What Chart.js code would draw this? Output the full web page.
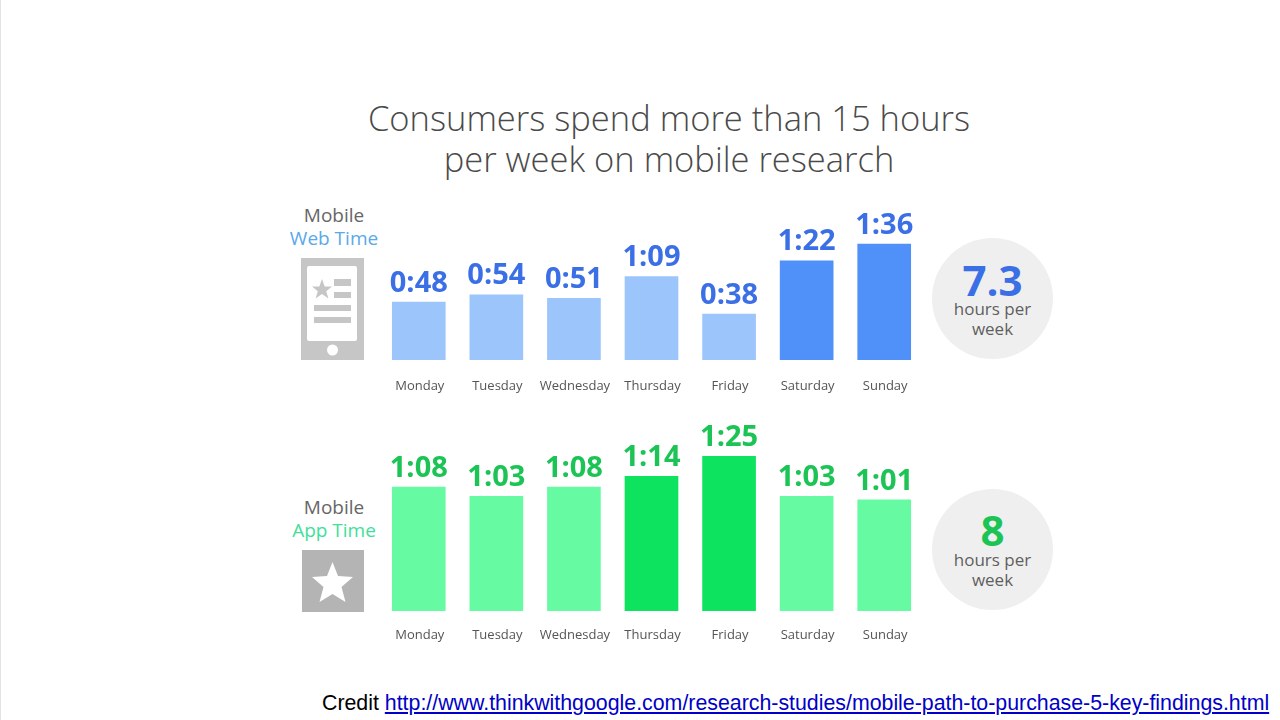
<!DOCTYPE html>
<html><head><meta charset="utf-8">
<style>
html,body{margin:0;padding:0;width:1280px;height:720px;background:#fff;overflow:hidden;font-family:"Open Sans",sans-serif}
.a{position:absolute}
.t{position:absolute;text-align:center;white-space:nowrap}
#edge{left:0;top:0;width:1px;height:720px;background:#e4e4e4}
#title{left:269px;width:800px;top:97px;font-size:34.5px;font-weight:300;line-height:41px;color:#4a4a4a}
.lab{left:274px;width:120px;font-size:19px;line-height:23px;color:#666}
.circle{left:932px;width:121px;height:121px;border-radius:50%;background:#efefef}
.big{left:932px;width:121px;font-weight:700;font-size:42px;line-height:48px}
.sub{left:932px;width:121px;font-size:17px;line-height:20px;color:#5f5f5f}
#credit{left:322px;top:691px;font-family:"Liberation Sans",sans-serif;font-size:21.33px;line-height:24px;color:#000;text-align:left}
#credit a{color:#0000c8;text-decoration:underline}
</style></head><body>
<div class="a" id="edge"></div>
<div class="t" id="title">Consumers spend more than 15 hours<br>per week on mobile research</div>

<div class="t lab" style="top:204px">Mobile<br><span style="color:#5aa9ea">Web Time</span></div>
<svg class="a" style="left:301px;top:258px" width="63" height="102" viewBox="0 0 63 102">
<rect width="63" height="102" fill="#c6c6c6"/>
<rect x="6" y="8" width="50" height="75" rx="2" fill="#fff"/>
<circle cx="31.5" cy="92" r="5.5" fill="#fff"/>
<polygon points="21,21 23.7,28.6 31,28.6 25.2,33.2 27.4,40.5 21,36 14.6,40.5 16.8,33.2 11,28.6 18.3,28.6" fill="#c6c6c6"/>
<rect x="33" y="21" width="17" height="7" fill="#c6c6c6"/><rect x="33" y="34" width="17" height="6" fill="#c6c6c6"/>
<rect x="13" y="47" width="37" height="6" fill="#c6c6c6"/><rect x="13" y="59" width="37" height="6" fill="#c6c6c6"/>
</svg>

<div class="t lab" style="top:496px">Mobile<br><span style="color:#3fe09a">App Time</span></div>
<svg class="a" style="left:302px;top:550px" width="62" height="62" viewBox="0 0 62 62">
<rect width="62" height="62" fill="#b4b4b4"/>
<polygon points="30.5,12 36,26 51,27 39.5,37 43.5,52 30.5,44 17.5,52 21.5,37 10,27 25,26" fill="#fff"/>
</svg>

<div class="a circle" style="top:238px"></div>
<div class="t big" style="top:256px;color:#3b6fe6" id="webTotal"></div>
<div class="t sub" style="top:299px">hours per<br>week</div>
<div class="a circle" style="top:489px"></div>
<div class="t big" style="top:506px;color:#1bc455" id="appTotal"></div>
<div class="t sub" style="top:550px">hours per<br>week</div>

<div class="a" style="left:380px;top:190px;width:543px;height:220px"><canvas id="web"></canvas></div>
<div class="a" style="left:380px;top:410px;width:543px;height:251px"><canvas id="app"></canvas></div>

<div class="t" id="credit">Credit <a href="#">http://www.thinkwithgoogle.com/research-studies/mobile-path-to-purchase-5-key-findings.html</a></div>

<script src="https://cdn.jsdelivr.net/npm/chart.js@4"></script>
<script>
const days = ["Monday","Tuesday","Wednesday","Thursday","Friday","Saturday","Sunday"];
const webMinutes = [48,54,51,69,38,82,96];
const webLabels = ["0:48","0:54","0:51","1:09","0:38","1:22","1:36"];
const webColors = ["#9cc5fb","#9cc5fb","#9cc5fb","#9cc5fb","#9cc5fb","#4f90f9","#4f90f9"];
const appMinutes = [68,63,68,74,85,63,61];
const appLabels = ["1:08","1:03","1:08","1:14","1:25","1:03","1:01"];
const appColors = ["#66fba3","#66fba3","#66fba3","#0de35f","#0de35f","#66fba3","#66fba3"];
const webTotal = "7.3";
const appTotal = "8";
document.getElementById("webTotal").textContent = webTotal;
document.getElementById("appTotal").textContent = appTotal;

const valueLabels = {
  id:"valueLabels",
  afterDatasetsDraw(chart, args, opts){
    const ctx = chart.ctx, meta = chart.getDatasetMeta(0);
    ctx.save();
    ctx.font = '700 29px "Open Sans"';
    ctx.fillStyle = opts.color;
    ctx.textAlign = "center";
    ctx.textBaseline = "alphabetic";
    meta.data.forEach((bar,i)=>ctx.fillText(opts.labels[i], bar.x, bar.y - opts.gap));
    ctx.restore();
  }
};
function make(id, values, colors, labels, labelColor, max, gap, tickLen){
  new Chart(document.getElementById(id),{
    type:"bar",
    data:{labels:days,datasets:[{data:values,backgroundColor:colors,borderWidth:0,barThickness:53}]},
    options:{
      responsive:true,maintainAspectRatio:false,animation:false,
      layout:{padding:0},
      plugins:{legend:{display:false},tooltip:{enabled:false},
        valueLabels:{labels:labels,color:labelColor,gap:gap}},
      scales:{
        x:{grid:{display:false,drawTicks:true,tickLength:tickLen},border:{display:false},
           afterFit(s){s.height=50;},
           ticks:{color:"#555",font:{family:'"Open Sans"',size:13},padding:0,labelOffset:1,maxRotation:0,autoSkip:false}},
        y:{display:false,min:0,max:max}
      }
    },
    plugins:[valueLabels]
  });
}
make("web",webMinutes,webColors,webLabels,"#3b6fe6",140.7,10.5,18);
make("app",appMinutes,appColors,appLabels,"#1bc455",110.4,10,16.5);
</script>
</body></html>
